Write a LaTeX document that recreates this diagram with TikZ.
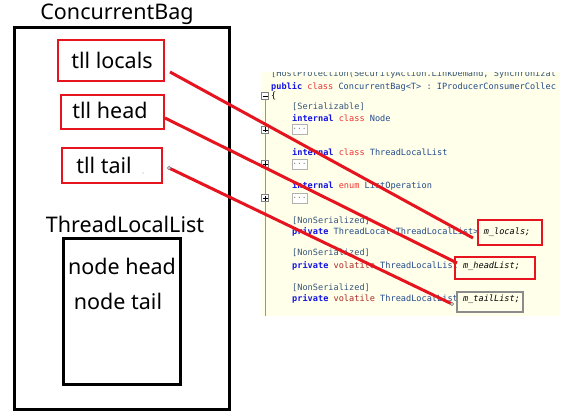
\documentclass[tikz,border=0pt]{standalone}
\usepackage{fontspec}
\setmainfont{Noto Sans}
\setmonofont{DejaVu Sans Mono}
\definecolor{redline}{RGB}{230,20,30}
\definecolor{panelbg}{RGB}{255,255,234}
\definecolor{kwblue}{RGB}{20,20,230}
\definecolor{kwred}{RGB}{235,50,50}
\definecolor{volred}{RGB}{170,40,40}
\definecolor{tyblue}{RGB}{35,75,140}
\definecolor{atgray}{RGB}{55,85,125}
\definecolor{gutter}{RGB}{150,150,150}
\newcommand{\kwb}[1]{\textcolor{kwblue}{\bfseries #1}}
\newcommand{\kwr}[1]{\textcolor{kwred}{#1}}
\newcommand{\kwv}[1]{\textcolor{volred}{#1}}
\newcommand{\tyb}[1]{\textcolor{tyblue}{#1}}
\newcommand{\atg}[1]{\textcolor{atgray}{#1}}
\newcommand{\fld}[1]{\textcolor{black}{\itshape #1}}
\begin{document}
\begin{tikzpicture}[x=1pt,y=-1pt,
  bigtext/.style={font=\fontsize{21.5}{24}\selectfont, inner sep=0pt},
  blackbox/.style={draw=black, line width=3pt},
  redbox/.style={draw=redline, line width=2.8pt},
  greybox/.style={draw=gray!90, line width=2.8pt},
  codeline/.style={font=\ttfamily\fontsize{8.6}{10}\selectfont, anchor=west, inner sep=0pt, text=tyblue},
  dotsbox/.style={draw=gray!60, line width=0.6pt, fill=white!90!panelbg, font=\ttfamily\fontsize{8}{9}\selectfont, text=gray, minimum width=15pt, minimum height=10pt, inner sep=0pt},
  foldbox/.style={draw=gray, line width=0.5pt, fill=white, minimum size=7pt, inner sep=0pt},
  link/.style={draw=redline, line width=3pt}]
\useasboundingbox (0,0) rectangle (572,414);
\fill[white] (0,0) rectangle (572,414);

% ---------- left diagram ----------
\draw[blackbox] (14,28) rectangle (229,409);
\node[bigtext] (cbag) at (117,14) {ConcurrentBag};
\draw[redbox] (58,40) rectangle (164,81);
\node[bigtext] (locals) at (112,60) {tll locals};
\draw[redbox] (61,95) rectangle (164,129);
\node[bigtext] (head) at (110,110) {tll head};
\draw[redbox] (62,148) rectangle (162,183);
\node[bigtext] (tail) at (104,165) {tll tail};
\fill[gray!70] (143,173) circle (0.6pt);

\node[bigtext] (tll) at (125,224) {ThreadLocalList};
\draw[blackbox] (63,238) rectangle (180,384);
\node[bigtext] (nhead) at (122,266) {node head};
\node[bigtext] (ntail) at (118,301) {node tail};

% ---------- code panel ----------
\fill[panelbg] (262,72.5) rectangle (560,316);
\draw[gutter, line width=0.6pt] (265,96) -- (265,316);
\begin{scope}
\clip (262,72.5) rectangle (560,316);
\node[codeline] (c0) at (271,74) {\atg{[HostProtection(SecurityAction.LinkDemand, Synchronizat}};
\end{scope}
\node[codeline] (c1) at (271,87) {\kwb{public} \kwr{class} ConcurrentBag<T> : IProducerConsumerCollec};
\node[codeline, text=black] (c2) at (271,96) {\{};
\node[codeline] (c3) at (292,107) {\atg{[Serializable]}};
\node[codeline] (c4) at (292,118) {\kwb{internal} \kwr{class} Node};
\node[dotsbox] (d1) at (299.5,129) {...};
\node[codeline] (c5) at (292,152) {\kwb{internal} \kwr{class} ThreadLocalList};
\node[dotsbox] (d2) at (299.5,164) {...};
\node[codeline] (c6) at (292,186) {\kwb{internal} \kwr{enum} ListOperation};
\node[dotsbox] (d3) at (299.5,198) {...};
\node[codeline] (c7) at (292,221) {\atg{[NonSerialized]}};
\node[codeline] (c8) at (292,232) {\kwb{private} ThreadLocal<ThreadLocalList> \fld{m\_locals;}};
\node[codeline] (c9) at (292,253) {\atg{[NonSerialized]}};
\node[codeline] (c10) at (292,266) {\kwb{private} \kwv{volatile} ThreadLocalList \fld{m\_headList;}};
\node[codeline] (c11) at (292,288) {\atg{[NonSerialized]}};
\node[codeline] (c12) at (292,299) {\kwb{private} \kwv{volatile} ThreadLocalList \fld{m\_tailList;}};

\node[foldbox] (f0) at (265,96) {};
\draw[line width=0.5pt] (262.5,96) -- (267.5,96);
\foreach \yy/\nm in {130/f1,164/f2,198/f3}{
  \node[foldbox] (\nm) at (265,\yy) {};
  \draw[line width=0.5pt] (262.5,\yy) -- (267.5,\yy) (265,\yy-2.5) -- (265,\yy+2.5);
}

\draw[redbox] (478,220) rectangle (542,245);
\draw[redbox] (455,257) rectangle (535,279);
\draw[greybox] (457,292) rectangle (523,312);

% ---------- connectors ----------
\coordinate (s1) at (170,72);
\coordinate (e1) at (473,238);
\coordinate (s2) at (165,118);
\coordinate (e2) at (457,263);
\coordinate (s3) at (169,168);
\coordinate (e3) at (452,304);
\draw[link] (s1) -- (e1);
\draw[link] (s2) -- (e2);
\draw[link] (s3) -- (e3);
\draw[gray, line width=0.6pt, fill=white] (s3) circle (1.6pt);
\draw[gray, line width=0.6pt, fill=white] (e3) circle (1.6pt);
\end{tikzpicture}
\end{document}
